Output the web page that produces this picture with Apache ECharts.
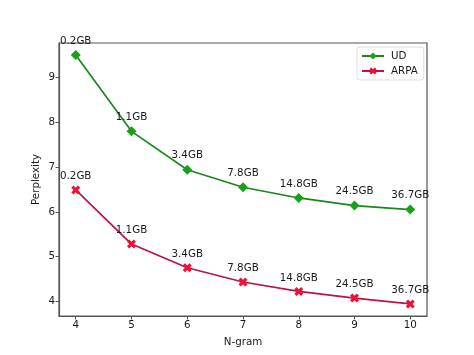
<!DOCTYPE html>
<html>
<head>
<meta charset="utf-8">
<script src="https://cdn.jsdelivr.net/npm/echarts@6/dist/echarts.min.js"></script>
<style>html,body{margin:0;padding:0;background:#fff;}#c{width:474px;height:355px;}</style>
</head>
<body>
<div id="c"></div>
<script>
const nGrams = [4, 5, 6, 7, 8, 9, 10];
const udValues = [9.51, 7.80, 6.94, 6.55, 6.31, 6.14, 6.05];
const arpaValues = [6.49, 5.28, 4.75, 4.43, 4.22, 4.07, 3.94];
const sizeLabels = ['0.2GB', '1.1GB', '3.4GB', '7.8GB', '14.8GB', '24.5GB', '36.7GB'];
const xTicks = [4, 5, 6, 7, 8, 9, 10];
const yTicks = [4, 5, 6, 7, 8, 9];

const FONT = 'DejaVu Sans';
const FS = 10.3;
const xMarker = 'path://M2.5,0 L5,2.5 L7.5,0 L10,2.5 L7.5,5 L10,7.5 L7.5,10 L5,7.5 L2.5,10 L0,7.5 L2.5,5 L0,2.5 Z';

function pairs(vals) { return nGrams.map((x, i) => [x, vals[i]]); }

const chart = echarts.init(document.getElementById('c'), null, {renderer: 'canvas'});
const labelCfg = {
  show: true, position: 'top', distance: 4,
  fontFamily: FONT, fontSize: FS, color: '#1a1a1a',
  formatter: p => sizeLabels[p.dataIndex]
};
chart.setOption({
  animation: false,
  backgroundColor: '#fff',
  textStyle: {fontFamily: FONT},
  grid: {left: 59, right: 47, top: 43, bottom: 39, show: true, borderColor: '#555', borderWidth: 1.2, containLabel: false},
  legend: {
    orient: 'vertical', left: 357, top: 47,
    data: ['UD', 'ARPA'],
    itemWidth: 22, itemHeight: 9, itemGap: 5,
    padding: [4, 6, 4, 4],
    borderColor: '#ddd', borderWidth: 1, borderRadius: 3,
    backgroundColor: '#fff',
    textStyle: {fontFamily: FONT, fontSize: FS, color: '#1a1a1a', padding: [0, 0, 0, 2]}
  },
  xAxis: {
    type: 'value', min: 3.7, max: 10.3,
    name: 'N-gram', nameLocation: 'middle', nameGap: 21, nameMoveOverlap: false,
    nameTextStyle: {fontFamily: FONT, fontSize: FS, color: '#1a1a1a'},
    axisLine: {show: true, lineStyle: {color: '#555', width: 1.2}},
    axisTick: {show: true, length: 3.5, lineStyle: {color: '#555'}, customValues: xTicks},
    axisLabel: {fontFamily: FONT, fontSize: FS, color: '#1a1a1a', margin: 4, customValues: xTicks},
    splitLine: {show: false}
  },
  yAxis: {
    type: 'value', min: 3.67, max: 9.776,
    name: 'Perplexity', nameLocation: 'middle', nameGap: 18, nameMoveOverlap: false,
    nameTextStyle: {fontFamily: FONT, fontSize: FS, color: '#1a1a1a'},
    axisLine: {show: true, lineStyle: {color: '#555', width: 1.2}},
    axisTick: {show: true, length: 3.5, lineStyle: {color: '#555'}, customValues: yTicks},
    axisLabel: {fontFamily: FONT, fontSize: FS, color: '#1a1a1a', margin: 4, customValues: yTicks},
    splitLine: {show: false}
  },
  series: [
    {
      name: 'UD', type: 'line', data: pairs(udValues),
      symbol: 'diamond', symbolSize: 10,
      lineStyle: {color: '#1c861c', width: 1.7},
      itemStyle: {color: '#18a018'},
      label: labelCfg
    },
    {
      name: 'ARPA', type: 'line', data: pairs(arpaValues),
      symbol: xMarker, symbolSize: 9,
      lineStyle: {color: '#c0104a', width: 1.7},
      itemStyle: {color: '#ee1133'},
      label: labelCfg
    }
  ]
});
</script>
</body>
</html>
